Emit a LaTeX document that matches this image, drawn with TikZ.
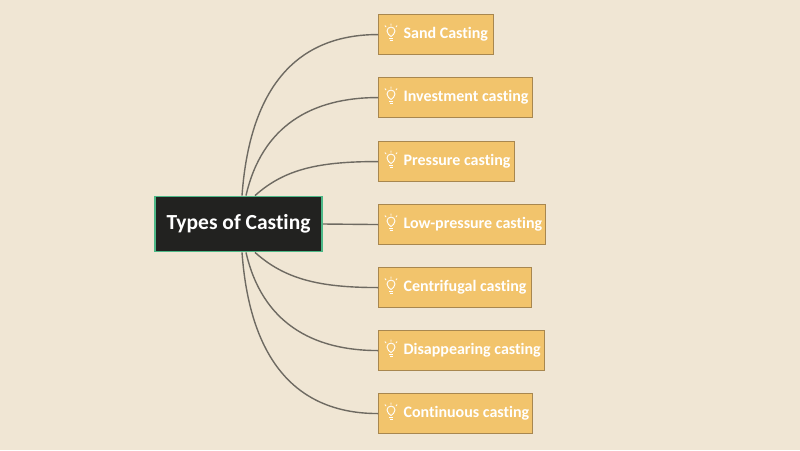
\documentclass[tikz,border=0pt]{standalone}
\usepackage{fontspec}
\setmainfont[Ligatures={NoCommon,NoContextual}]{Carlito}
\begin{document}
\begin{tikzpicture}[x=1pt,y=-1pt,
  leaf/.style={draw=leafborder, fill=leaffill, line width=1.1pt, inner sep=0pt,
     minimum height=40pt, anchor=north west, text=white,
     font=\bfseries\fontsize{16}{18}\selectfont},
  root/.style={draw=rootborder, fill=rootfill, line width=1.8pt, inner sep=0pt,
     minimum width=167pt, minimum height=55pt, text=white,
     font=\bfseries\fontsize{21.5}{24}\selectfont},
  link/.style={draw=linkcol, line width=1.4pt},
  bulb/.pic={
    \draw[white, line width=0.9pt] (0,2) .. controls (-1.5,0.5) and (-4,-0.5) .. (-4,-3.5)
       arc[start angle=180, end angle=360, radius=4] .. controls (4,-0.5) and (1.5,0.5) .. (0,2);
    \draw[white, line width=0.9pt] (-2,4) -- (2,4) (-1.5,6) -- (1.5,6);
    \draw[white, line width=0.8pt] (0,-9) -- (0,-11) (-4.8,-7.5) -- (-6.2,-9)
       (4.8,-7.5) -- (6.2,-9);
  }]
\definecolor{bg}{HTML}{F0E6D4}
\definecolor{leaffill}{HTML}{F2C46C}
\definecolor{leafborder}{HTML}{A8874F}
\definecolor{rootfill}{HTML}{222220}
\definecolor{rootborder}{HTML}{4DB887}
\definecolor{linkcol}{HTML}{6E6A62}
\fill[bg] (0,0) rectangle (800,450);
\useasboundingbox (0,0) rectangle (800,450);

\node[root] (c) at (238.5,224) {\raisebox{-2pt}{Types of Casting}};

\node[leaf] (l1) at (378,14)  {\makebox[115pt][l]{\hspace{25pt}\raisebox{-2pt}{Sand Casting}}};
\node[leaf] (l2) at (378,77)  {\makebox[154pt][l]{\hspace{25pt}\raisebox{-2pt}{Investment casting}}};
\node[leaf] (l3) at (378,141) {\makebox[136pt][l]{\hspace{25pt}\raisebox{-2pt}{Pressure casting}}};
\node[leaf] (l4) at (378,204) {\makebox[167pt][l]{\hspace{25pt}\raisebox{-2pt}{Low-pressure casting}}};
\node[leaf] (l5) at (378,267) {\makebox[153pt][l]{\hspace{25pt}\raisebox{-2pt}{Centrifugal casting}}};
\node[leaf] (l6) at (378,330) {\makebox[166pt][l]{\hspace{25pt}\raisebox{-2pt}{Disappearing casting}}};
\node[leaf] (l7) at (378,393) {\makebox[154pt][l]{\hspace{25pt}\raisebox{-2pt}{Continuous casting}}};

\foreach \n in {l1,l2,l3,l4,l5,l6,l7}{
  \pic at ([xshift=13pt,yshift=0pt]\n.west) {bulb};
}

\draw[link] ([xshift=3.5pt]c.north) .. controls +(8,-110) and +(-80,0) .. (l1.west);
\draw[link] ([xshift=7.5pt]c.north) .. controls +(16,-70) and +(-66,0) .. (l2.west);
\draw[link] ([xshift=16.5pt]c.north) .. controls +(30,-27) and +(-58,0) .. (l3.west);
\draw[link] (c.east) -- (l4.west);
\draw[link] ([xshift=16.5pt]c.south) .. controls +(30,27) and +(-58,0) .. (l5.west);
\draw[link] ([xshift=7.5pt]c.south) .. controls +(16,70) and +(-66,0) .. (l6.west);
\draw[link] ([xshift=3.5pt]c.south) .. controls +(8,110) and +(-80,0) .. (l7.west);
\end{tikzpicture}
\end{document}
